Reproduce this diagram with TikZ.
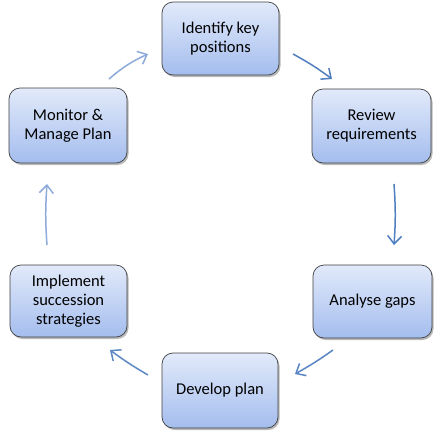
\documentclass[tikz,border=0pt]{standalone}
\usepackage{fontspec}
\setmainfont{Carlito}
\usetikzlibrary{shadows,arrows.meta}
\definecolor{boxtop}{HTML}{E2EAFA}
\definecolor{boxbot}{HTML}{A4BDEE}
\definecolor{boxline}{HTML}{404040}
\definecolor{arrdark}{HTML}{4F7FC0}
\definecolor{arrlight}{HTML}{8EAADB}
\tikzset{
  stepbox/.style={draw=boxline, line width=0.7pt, rounded corners=11pt,
    top color=boxtop, bottom color=boxbot,
    drop shadow={shadow xshift=1.5pt, shadow yshift=-2pt, fill=black!45, opacity=0.6},
    align=center, font=\fontsize{16.5}{19}\selectfont, text=black, inner sep=2pt},
  flow/.style={line width=1.5pt, -{Straight Barb[length=8pt,width=14pt,line width=1.5pt]}},
}
\begin{document}
\begin{tikzpicture}[x=1pt,y=-1pt]
\useasboundingbox (0,0) rectangle (440,440);
\fill[white] (0,0) rectangle (440,440);
\node[stepbox, minimum width=117pt, minimum height=73pt] (idk) at (220.5,38.5) {Identify key\\positions};
\node[stepbox, minimum width=119pt, minimum height=74pt] (rev) at (371.5,126) {Review\\requirements};
\node[stepbox, minimum width=119pt, minimum height=73pt] (ana) at (372.5,301.5) {Analyse gaps};
\node[stepbox, minimum width=116pt, minimum height=75pt] (dev) at (220,390.5) {Develop plan};
\node[stepbox, minimum width=117pt, minimum height=72pt] (imp) at (68.5,301) {Implement\\succession\\strategies};
\node[stepbox, minimum width=118pt, minimum height=75pt] (mon) at (68,125.5) {Monitor \&\\Manage Plan};
\coordinate (a1s) at (293,54); \coordinate (a1e) at (332,79);
\coordinate (a2s) at (394,184); \coordinate (a2e) at (394,245);
\coordinate (a3s) at (333,350); \coordinate (a3e) at (295,374);
\coordinate (a4s) at (148,375); \coordinate (a4e) at (110,350);
\coordinate (a5s) at (47,245); \coordinate (a5e) at (47,184);
\coordinate (a6s) at (109,79); \coordinate (a6e) at (148,54);
\draw[flow, arrdark] (a1s) to[bend left=4] (a1e);
\draw[flow, arrdark] (a2s) to[bend left=4] (a2e);
\draw[flow, arrdark!85!arrlight] (a3s) to[bend left=3] (a3e);
\draw[flow, arrdark!80!arrlight] (a4s) to[bend left=3] (a4e);
\draw[flow, arrlight] (a5s) to[bend left=4] (a5e);
\draw[flow, arrlight] (a6s) to[bend left=8] (a6e);
\end{tikzpicture}
\end{document}
